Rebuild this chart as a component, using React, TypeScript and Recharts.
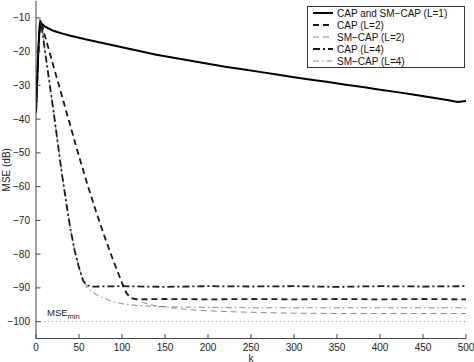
import React from 'react';
import { LineChart, Line, XAxis, YAxis, ReferenceLine, Legend } from 'recharts';

const FONT = '"Liberation Sans", Arial, Helvetica, sans-serif';
const AXIS = '#444';

// tick labels
const xTicks = [0, 50, 100, 150, 200, 250, 300, 350, 400, 450, 500];
const yTicks = [-100, -90, -80, -70, -60, -50, -40, -30, -20, -10];

// CAP and SM-CAP (L=1)
const kL1 = [0, 1, 2, 3, 4, 5, 7, 10, 15, 20, 30, 40, 50, 60, 80, 100, 120, 140, 160, 180, 200, 220, 240, 260, 280, 300, 320, 340, 360, 380, 400, 420, 440, 460, 480, 490, 500];
const mseL1 = [-38, -31, -24, -18, -13, -11, -11.8, -12.5, -13.2, -13.8, -14.6, -15.3, -15.9, -16.5, -17.6, -18.7, -19.8, -20.9, -21.8, -22.7, -23.6, -24.5, -25.2, -26.0, -26.8, -27.6, -28.3, -29.0, -29.8, -30.5, -31.3, -32.0, -32.8, -33.6, -34.4, -34.9, -34.6];

// CAP (L=2)
const kCapL2 = [0, 1, 2, 3, 4, 5, 6, 7, 10, 20, 30, 40, 50, 60, 70, 80, 90, 100, 105, 110, 115, 120, 150, 200, 250, 300, 350, 400, 450, 500];
const mseCapL2 = [-38, -31, -25, -19, -15, -12.5, -11.6, -12, -15, -24, -33, -42, -51, -59.5, -67.5, -75, -82, -88.5, -91.5, -93, -93.3, -93.4, -93.3, -93.4, -93.3, -93.4, -93.3, -93.4, -93.3, -93.4];

// SM-CAP (L=2)
const kSmL2 = [0, 1, 2, 3, 4, 5, 6, 7, 10, 20, 30, 40, 50, 60, 70, 80, 90, 100, 105, 110, 120, 130, 140, 160, 180, 200, 230, 260, 300, 350, 400, 450, 500];
const mseSmL2 = [-38, -31, -25, -19, -15, -12.5, -11.6, -12, -15, -24, -33, -42, -51, -59.5, -67.5, -75, -82, -88.5, -91.2, -92.6, -94, -94.8, -95.3, -96, -96.5, -96.8, -97.1, -97.3, -97.5, -97.6, -97.6, -97.6, -97.6];

// CAP (L=4)
const kCapL4 = [0, 1, 2, 3, 4, 5, 6, 8, 10, 15, 20, 25, 30, 35, 40, 45, 50, 55, 60, 65, 70, 100, 150, 200, 250, 300, 350, 400, 450, 500];
const mseCapL4 = [-38, -31, -25, -19, -14, -12, -12, -15, -19, -28, -37, -46.5, -56, -64.5, -72.5, -79, -84, -88, -89.3, -89.6, -89.6, -89.5, -89.7, -89.5, -89.6, -89.5, -89.7, -89.5, -89.6, -89.5];

// SM-CAP (L=4)
const kSmL4 = [0, 1, 2, 3, 4, 5, 6, 8, 10, 15, 20, 25, 30, 35, 40, 45, 50, 55, 60, 70, 80, 90, 100, 120, 150, 200, 250, 300, 350, 400, 450, 500];
const mseSmL4 = [-38, -31, -25, -19, -14, -12, -12, -15, -19, -28, -37, -46.5, -56, -64.5, -72.5, -79, -84, -87.8, -90.2, -92, -93.2, -94.1, -94.7, -95.3, -95.6, -95.8, -95.9, -95.9, -95.9, -95.9, -95.9, -95.9];

const mseMin = -100;

const toPoints = (ks: number[], vs: number[]) => ks.map((k, i) => ({ k, mse: vs[i] }));

const series = [
  { name: 'CAP and SM−CAP (L=1)', data: toPoints(kL1, mseL1), stroke: '#000', width: 2, dash: undefined as string | undefined },
  { name: 'CAP (L=2)', data: toPoints(kCapL2, mseCapL2), stroke: '#1a1a1a', width: 1.8, dash: '6 4' },
  { name: 'SM−CAP (L=2)', data: toPoints(kSmL2, mseSmL2), stroke: '#707070', width: 0.8, dash: '6 4' },
  { name: 'CAP (L=4)', data: toPoints(kCapL4, mseCapL4), stroke: '#1a1a1a', width: 1.8, dash: '7 3 2 3' },
  { name: 'SM−CAP (L=4)', data: toPoints(kSmL4, mseSmL4), stroke: '#707070', width: 0.8, dash: '6 3 1.5 3' },
];

const fmt = (v: number) => (v < 0 ? '−' + Math.abs(v) : String(v));

const BottomTick = (props: any) => {
  const { x, y, payload } = props;
  return (
    <g>
      <line x1={x} y1={y} x2={x} y2={y - 4.5} stroke={AXIS} strokeWidth={1} />
      <text x={x} y={y + 12.5} textAnchor="middle" fontSize={10} fontFamily={FONT} fill="#222">
        {fmt(payload.value)}
      </text>
    </g>
  );
};
const TopTick = (props: any) => {
  const { x, y } = props;
  return <line x1={x} y1={y} x2={x} y2={y + 4.5} stroke={AXIS} strokeWidth={1} />;
};
const LeftTick = (props: any) => {
  const { x, y, payload } = props;
  return (
    <g>
      <line x1={x} y1={y} x2={x + 4.5} y2={y} stroke={AXIS} strokeWidth={1} />
      <text x={x - 6} y={y + 3.5} textAnchor="end" fontSize={10} fontFamily={FONT} fill="#222">
        {fmt(payload.value)}
      </text>
    </g>
  );
};
const RightTick = (props: any) => {
  const { x, y } = props;
  return <line x1={x} y1={y} x2={x - 4.5} y2={y} stroke={AXIS} strokeWidth={1} />;
};

const renderLegend = () => (
  <svg width={158} height={62} style={{ display: 'block' }}>
    <rect x={0.5} y={0.5} width={157} height={61} fill="#fff" stroke="#333" strokeWidth={1} />
    {series.map((s, i) => {
      const cy = 7 + i * 12;
      return (
        <g key={s.name}>
          <line x1={6} y1={cy} x2={26} y2={cy} stroke={s.stroke} strokeWidth={s.width} strokeDasharray={s.dash} />
          <text x={30} y={cy + 3.5} fontSize={10} fontFamily={FONT} fill="#111">
            {s.name}
          </text>
        </g>
      );
    })}
  </svg>
);

const MinLabel = (props: any) => {
  const vb = props.viewBox || {};
  return (
    <text x={vb.x + 11} y={vb.y - 6} fontSize={9.5} fontFamily={FONT} fill="#222">
      MSE
      <tspan fontSize={7.5} dy={3.5}>min</tspan>
    </text>
  );
};

const YLabel = (props: any) => {
  const vb = props.viewBox || {};
  const cx = vb.x + 10;
  const cy = vb.y + vb.height / 2;
  return (
    <text x={cx} y={cy} transform={`rotate(-90 ${cx} ${cy})`} textAnchor="middle" fontSize={10} fontFamily={FONT} fill="#222">
      MSE (dB)
    </text>
  );
};

const XLabel = (props: any) => {
  const vb = props.viewBox || {};
  return (
    <text x={vb.x + vb.width / 2} y={vb.y + 23} textAnchor="middle" fontSize={10} fontFamily={FONT} fill="#222">
      k
    </text>
  );
};

export default function App() {
  return (
    <div style={{ position: 'absolute', left: 0, top: 0, width: 474, height: 362, background: '#fff' }}>
      <LineChart width={474} height={362} margin={{ top: 1, right: 8, bottom: 0, left: 0 }}>
        <XAxis
          xAxisId="b"
          dataKey="k"
          type="number"
          domain={[0, 500]}
          ticks={xTicks}
          allowDataOverflow
          height={23.5}
          tickSize={0}
          tickMargin={0}
          tickLine={false}
          axisLine={{ stroke: AXIS }}
          tick={BottomTick}
          interval={0}
          label={{ content: XLabel }}
        />
        <XAxis
          xAxisId="t"
          orientation="top"
          dataKey="k"
          type="number"
          domain={[0, 500]}
          ticks={xTicks}
          allowDataOverflow
          height={0}
          tickSize={0}
          tickMargin={0}
          tickLine={false}
          axisLine={{ stroke: AXIS }}
          tick={TopTick}
          interval={0}
        />
        <YAxis
          yAxisId="l"
          type="number"
          domain={[-105, -5]}
          ticks={yTicks}
          allowDataOverflow
          width={36}
          tickSize={0}
          tickMargin={0}
          tickLine={false}
          axisLine={{ stroke: AXIS }}
          tick={LeftTick}
          interval={0}
          label={{ content: YLabel }}
        />
        <YAxis
          yAxisId="r"
          orientation="right"
          type="number"
          domain={[-105, -5]}
          ticks={yTicks}
          allowDataOverflow
          width={0}
          tickSize={0}
          tickMargin={0}
          tickLine={false}
          axisLine={{ stroke: AXIS }}
          tick={RightTick}
          interval={0}
        />
        <ReferenceLine
          xAxisId="b"
          yAxisId="l"
          y={mseMin}
          stroke="#888"
          strokeWidth={1}
          strokeDasharray="1 3"
          label={{ content: MinLabel }}
        />
        {[2, 4, 1, 3, 0].map((idx) => {
          const s = series[idx];
          return (
            <Line
              key={s.name}
              xAxisId="b"
              yAxisId="l"
              data={s.data}
              dataKey="mse"
              name={s.name}
              type="linear"
              stroke={s.stroke}
              strokeWidth={s.width}
              strokeDasharray={s.dash}
              dot={false}
              activeDot={false}
              isAnimationActive={false}
            />
          );
        })}
        <Legend
          layout="horizontal"
          verticalAlign="middle"
          align="center"
          content={renderLegend}
          wrapperStyle={{ position: 'absolute', left: 307, top: 6, width: 158, height: 62 }}
        />
      </LineChart>
    </div>
  );
}
